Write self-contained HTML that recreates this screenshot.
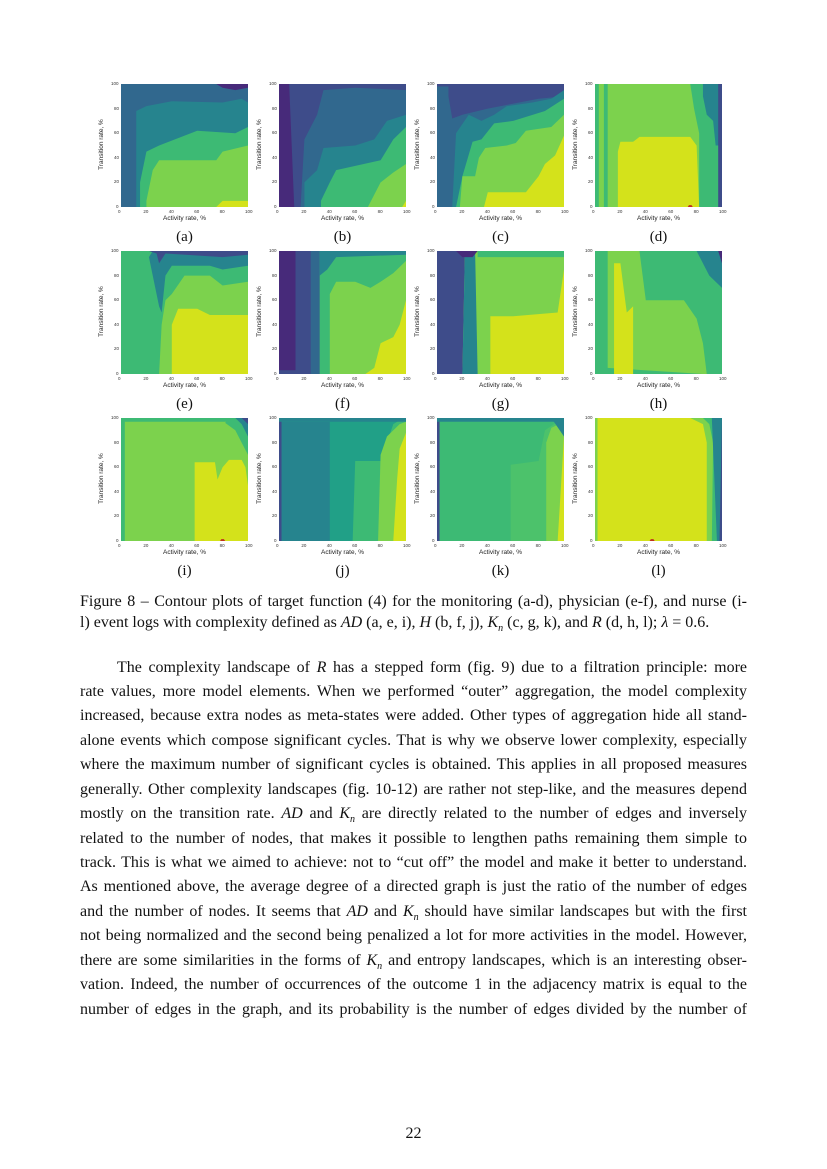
<!DOCTYPE html>
<html><head><meta charset="utf-8"><style>
body{margin:0;background:#fff;}
#pg{position:relative;width:827px;height:1169px;overflow:hidden;font-family:"Liberation Serif",serif;color:#111;}
.pl{position:absolute;width:127px;height:123px;}
.pl svg{position:absolute;left:0;top:0;width:127px;height:123px;}
.tk{position:absolute;font-family:"Liberation Sans",sans-serif;font-size:4.5px;color:#333;}
.xl{position:absolute;font-family:"Liberation Sans",sans-serif;font-size:6.5px;color:#222;width:127px;text-align:center;}
.yl{position:absolute;font-family:"Liberation Sans",sans-serif;font-size:6.5px;color:#222;width:123px;text-align:center;transform:rotate(-90deg);transform-origin:center;}
.lab{position:absolute;font-size:15px;width:127px;text-align:center;}
.ln{position:absolute;left:80px;width:667px;font-size:16px;text-align:justify;text-align-last:justify;white-space:nowrap;line-height:20px;}
.ln.l{text-align-last:left;}
i{font-style:italic;}
</style></head><body><div id="pg">
<div id="plots"></div>

<div class="ln" style="top:592px">Figure 8 – Contour plots of target function (4) for the monitoring (a-d), physician (e-f), and nurse (i-</div>
<div class="ln l" style="top:613px">l) event logs with complexity defined as <i>AD</i> (a, e, i), <i>H</i> (b, f, j), <i>K<sub style="font-size:10px">n</sub></i> (c, g, k), and <i>R</i> (d, h, l); <i>λ</i> = 0.6.</div>

<div class="ln" style="top:658px;left:117px;width:630px">The complexity landscape of <i>R</i> has a stepped form (fig. 9) due to a filtration principle: more</div>
<div class="ln" style="top:682px">rate values, more model elements. When we performed “outer” aggregation, the model complexity</div>
<div class="ln" style="top:706px">increased, because extra nodes as meta-states were added. Other types of aggregation hide all stand-</div>
<div class="ln" style="top:731px">alone events which compose significant cycles. That is why we observe lower complexity, especially</div>
<div class="ln" style="top:755px">where the maximum number of significant cycles is obtained. This applies in all proposed measures</div>
<div class="ln" style="top:780px">generally. Other complexity landscapes (fig. 10-12) are rather not step-like, and the measures depend</div>
<div class="ln" style="top:804px">mostly on the transition rate. <i>AD</i> and <i>K<sub style="font-size:10px">n</sub></i> are directly related to the number of edges and inversely</div>
<div class="ln" style="top:829px">related to the number of nodes, that makes it possible to lengthen paths remaining them simple to</div>
<div class="ln" style="top:853px">track. This is what we aimed to achieve: not to “cut off” the model and make it better to understand.</div>
<div class="ln" style="top:877px">As mentioned above, the average degree of a directed graph is just the ratio of the number of edges</div>
<div class="ln" style="top:902px">and the number of nodes. It seems that <i>AD</i> and <i>K<sub style="font-size:10px">n</sub></i> should have similar landscapes but with the first</div>
<div class="ln" style="top:926px">not being normalized and the second being penalized a lot for more activities in the model. However,</div>
<div class="ln" style="top:951px">there are some similarities in the forms of <i>K<sub style="font-size:10px">n</sub></i> and entropy landscapes, which is an interesting obser-</div>
<div class="ln" style="top:975px">vation. Indeed, the number of occurrences of the outcome 1 in the adjacency matrix is equal to the</div>
<div class="ln" style="top:1000px">number of edges in the graph, and its probability is the number of edges divided by the number of</div>
<div style="position:absolute;top:1125px;left:0;width:827px;text-align:center;font-size:16px">22</div>
</div>
<script>
const P='#472a7a',D='#3e4c8a',B='#31688e',T='#26848e',T2='#21a087',G='#3dba74',G2='#4cc26b',L='#7cd24d',Y='#d4e21b',R='#c0301e';
const plots=[
 [B,[[T,[12,0,100,0,100,85,95,88,80,85,40,86,20,82,12,78]],[G,[15,0,100,0,100,65,90,60,60,62,30,50,20,45,15,20]],[L,[20,0,100,0,100,50,80,45,75,38,30,38,25,30,20,5]],[Y,[75,0,100,0,100,5,80,5]],[P,[75,100,100,100,100,97,90,95,80,97]]]],
 [D,[[P,[0,0,12,0,8,100,0,100]],[B,[17,0,100,0,100,95,60,97,35,95,30,75,20,55]],[T,[20,0,100,0,100,75,85,70,75,55,60,50,35,48,30,30,20,20]],[G,[33,0,100,0,100,65,90,55,80,38,45,30,40,20,33,5]],[L,[70,0,100,0,100,35,90,28,80,20]],[Y,[97,0,100,0,100,5]]]],
 [B,[[D,[9,100,100,100,100,90,80,88,60,84,40,80,20,75,12,72,9,90]],[T,[12,0,100,0,100,95,90,88,75,85,55,82,45,75,35,70,25,75,15,60]],[G,[15,0,100,0,100,88,85,78,60,70,45,68,35,55,28,53,20,25,15,0]],[L,[18,0,100,0,100,75,90,65,70,62,62,52,55,50,38,48,33,40,30,25,20,25]],[Y,[37,0,100,0,100,58,93,42,85,35,80,25,70,12,40,12]],[D,[0,100,100,100,100,98,0,98]]]],
 [L,[[G,[0,0,3,0,3,100,0,100]],[G,[7,0,10,0,10,100,7,100]],[Y,[18,0,82,0,80,50,75,57,35,57,30,53,20,53,18,45]],[G,[82,0,100,0,100,100,75,100,78,80,82,60]],[T,[85,100,100,100,100,50,95,50,93,70,88,75,85,90]],[D,[97,0,100,0,100,100,97,100]],[R,[73,0,77,0,76,1.5,74,1.5]]]],
 [G,[[T,[25,100,100,100,100,88,80,85,70,88,40,88,35,80,32,50,30,55,25,80,22,95]],[D,[22,100,100,100,100,97,80,95,35,98,30,90,28,98]],[L,[30,0,100,0,100,75,80,72,70,80,50,80,40,65,35,60,32,40]],[Y,[40,0,100,0,100,48,70,48,60,53,45,53,40,40]]]],
 [D,[[P,[0,3,13,3,13,100,0,100]],[B,[25,0,32,0,32,100,25,100]],[G,[32,0,100,0,100,98,40,100,32,100]],[T,[32,100,100,100,100,97,45,95,38,85,32,80]],[L,[40,0,100,0,100,92,90,82,80,75,72,70,60,75,45,75,40,65]],[Y,[68,0,100,0,100,60,95,40,90,30,80,25,75,5]]]],
 [L,[[D,[0,0,20,0,22,100,0,100]],[T,[20,0,32,0,30,100,22,100]],[Y,[42,0,100,0,100,85,95,50,60,47,42,47]],[P,[15,100,32,100,28,95,20,95]],[G,[32,95,100,95,100,100,32,100]]]],
 [G,[[L,[10,5,85,0,88,0,85,25,80,45,70,60,40,60,35,100,10,100]],[Y,[15,0,30,0,30,55,25,50,20,90,15,90]],[T,[60,100,100,100,100,70,90,80,80,100]],[P,[97,100,100,100,100,90]]]],
 [L,[[G,[0,0,3,0,3,100,0,100]],[G,[0,100,100,100,100,97,0,97]],[Y,[58,0,100,0,100,45,98,60,95,66,85,66,80,60,76,50,74,64,58,64]],[G,[85,100,100,100,100,70,95,80,90,90,82,96]],[T,[90,100,100,100,100,85,95,95]],[D,[95,100,100,100,100,95]],[R,[78,0,82,0,81,1.5,79,1.5]]]],
 [T2,[[T,[0,0,40,0,40,97,0,97]],[D,[0,0,2,0,2,100,0,100]],[G,[58,0,100,0,100,100,98,100,90,95,80,65,60,65]],[L,[78,0,100,0,100,97,95,95,85,85,80,70]],[Y,[90,0,100,0,100,88,95,75,93,50]],[T,[0,97,100,97,100,100,0,100]]]],
 [G,[[D,[0,0,2,0,2,100,0,100]],[G2,[58,0,100,0,100,100,95,97,85,90,80,65,58,62]],[L,[86,0,100,0,100,97,90,92,86,80]],[Y,[95,0,100,0,100,85]],[T,[0,97,100,97,100,100,0,100]],[T,[90,100,100,100,100,85]]]],
 [Y,[[L,[0,0,2,0,2,100,0,100]],[L,[88,0,100,0,100,100,75,100,85,95,88,80]],[G,[92,0,100,0,100,100,85,100,90,95,93,80]],[T,[96,0,100,0,100,100,92,100]],[D,[98,0,100,0,100,100]],[R,[43,0,47,0,46,1.5,44,1.5]]]]
];
const xs=[121,279,437,595],ys=[84,251,418],labs='abcdefghijkl';
let h='';
plots.forEach((p,i)=>{
 const x=xs[i%4],y=ys[Math.floor(i/4)];
 let s=`<svg viewBox="0 0 100 100" preserveAspectRatio="none"><rect width="100" height="100" fill="${p[0]}"/><g transform="translate(0,100) scale(1,-1)">`;
 p[1].forEach(q=>{s+=`<polygon fill="${q[0]}" points="${q[1].join(' ')}"/>`;});
 s+=`</g></svg>`;
 h+=`<div class="pl" style="left:${x}px;top:${y}px">${s}</div>`;
 [0,20,40,60,80,100].forEach((v,k)=>{
  h+=`<div class="tk" style="left:${x+v*1.27-3}px;top:${y+125}px">${v}</div>`;
  h+=`<div class="tk" style="left:${x-(v==100?10:v==0?5:7)}px;top:${y+123-v*1.23-3}px">${v}</div>`;
 });
 h+=`<div class="xl" style="left:${x}px;top:${y+131}px">Activity rate, %</div>`;
 h+=`<div class="yl" style="left:${x-81}px;top:${y+57}px">Transition rate, %</div>`;
 h+=`<div class="lab" style="left:${x}px;top:${y+145}px">(${labs[i]})</div>`;
});
document.getElementById('plots').innerHTML=h;
</script>
</body></html>
